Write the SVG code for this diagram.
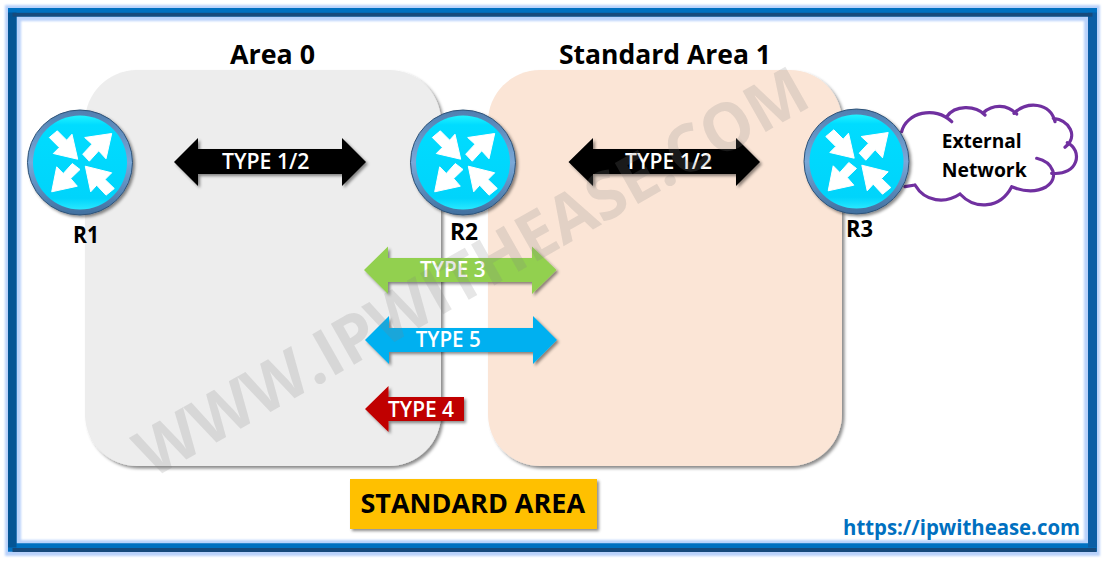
<svg xmlns="http://www.w3.org/2000/svg" width="1105" height="561" viewBox="0 0 1105 561">
<style>
text{font-family:"Open Sans","Noto Sans","Liberation Sans",sans-serif;font-weight:700}
.lab{fill:#000}
.t{fill:#fff;font-size:21px;font-weight:600}
.area{filter:url(#sh)}
.arr{filter:url(#sh2)}
</style>
<defs>
<filter id="sh" x="-5%" y="-5%" width="112%" height="112%"><feDropShadow dx="2.5" dy="2.5" stdDeviation="1.8" flood-color="#000" flood-opacity=".45"/></filter>
<filter id="sh2" x="-5%" y="-10%" width="112%" height="125%"><feDropShadow dx="2" dy="2" stdDeviation="1.5" flood-color="#000" flood-opacity=".45"/></filter>
<filter id="gl" x="-5%" y="-5%" width="110%" height="110%"><feGaussianBlur stdDeviation="1"/></filter>
<linearGradient id="ring" x1="0" y1="0" x2="0" y2="1"><stop offset="0" stop-color="#4f7fb0"/><stop offset=".5" stop-color="#7aa8d8"/><stop offset="1" stop-color="#3f6f9f"/></linearGradient>
<linearGradient id="face" x1="0" y1="0" x2="0" y2="1"><stop offset="0" stop-color="#20f2ff"/><stop offset=".1" stop-color="#00dcff"/><stop offset=".88" stop-color="#00d4fb"/><stop offset="1" stop-color="#28e8ff"/></linearGradient>
<g id="router">
<circle r="52.500" fill="url(#ring)" stroke="#2f5378" stroke-width="1" filter="url(#sh2)"/>
<circle r="47" fill="url(#face)"/>
<path fill="#fff" stroke="#fff" stroke-width="1" stroke-linejoin="round" d="M-2.300-3.300-26.700-9-20.700-15-30.700-25-22.700-31.700-13.300-22.300-8-28.300ZM31.700-29 26-3.700 18.700-11.700 9.300-1.300 2.700-8.300 12-18.300 4.700-25ZM-28.300 29.300-2.700 23.700-9.300 16 0 7-7.700 1-16.700 11-23.300 4.300ZM5.300 3.700 31.700 10.300 25 17 34.300 26 26 32.700 16.700 22.700 10.700 29.300Z"/>
</g>
</defs>
<rect width="1105" height="561" fill="#fff"/>
<g id="frame">
<rect x="13" y="13" width="1079" height="535" fill="none" stroke="#b9d2fb" stroke-width="16" filter="url(#gl)"/>
<rect x="12.250" y="12.250" width="1080.500" height="535.250" fill="none" stroke="#0070c0" stroke-width="8.500"/>
<rect x="8" y="12.500" width="8.500" height="535" fill="#045595"/>
<rect x="1088" y="12.500" width="9" height="535" fill="#0b5ea6"/>
<rect x="12.500" y="12.800" width="1080" height="3.800" fill="#174a7c"/>
<rect x="12.500" y="548" width="1084" height="4" fill="#174a7c"/>
</g>
<g id="area0"><rect class="area" x="85" y="70" width="356" height="396" rx="52" fill="#ededed"/></g>
<g id="area1"><rect class="area" x="488" y="70" width="354" height="396" rx="52" fill="#fbe5d6"/></g>
<text x="230" y="64" font-size="26" textLength="85" lengthAdjust="spacingAndGlyphs" class="lab">Area 0</text>
<text x="559" y="64" font-size="26" textLength="212" lengthAdjust="spacingAndGlyphs" class="lab">Standard Area 1</text>
<g id="cloud">
<path fill="#fff" d="M901.700 131.700C906 113 935 105 951.700 121.700C955 105 975 105 985 115C993 104 1007 104 1016.700 114C1027 101 1050 102 1055 121.700C1080 125 1080 136 1065 147.300C1084 152 1080 175 1051.700 173.300C1052 185 1022 191 1011.700 186.700C1000 209 975 210 960 194C945 203 925 203 915 185L905 186.700Z"/>
<path fill="none" stroke="#7030a0" stroke-width="3.200" stroke-linecap="round" d="M901.700 131.700C906 113 935 105 951.700 121.700M946.700 116.700C955 105 975 105 985 115M983.300 112.700C993 104 1007 104 1016.700 114M1014 113.300C1027 101 1050 102 1055 121.700M1053.300 118.300C1069 120 1079 136 1065 147.300M1067.300 142.700C1083 150 1079 176 1051.700 173.300M1036.700 158.300C1053 162 1060 178 1046 187C1035 193 1022 191 1011.700 186.700M1011.700 186.700C1000 209 975 210 960 194M960 194C945 204 925 202 915 185M915 185L905 186.700"/>
<text x="941.700" y="147.700" font-size="20" textLength="80" lengthAdjust="spacingAndGlyphs" class="lab">External</text>
<text x="941.700" y="176.700" font-size="20" textLength="85" lengthAdjust="spacingAndGlyphs" class="lab">Network</text>
</g>
<g id="R1"><use href="#router" x="80" y="162.500"/><text x="73" y="243" font-size="23" textLength="26" lengthAdjust="spacingAndGlyphs" class="lab">R1</text></g>
<g id="R2"><use href="#router" x="463" y="162.500"/><text x="450" y="240" font-size="23" textLength="28" lengthAdjust="spacingAndGlyphs" class="lab">R2</text></g>
<g id="R3"><use href="#router" x="856.500" y="161.500"/><text x="846" y="237" font-size="23" textLength="27" lengthAdjust="spacingAndGlyphs" class="lab">R3</text></g>
<g id="connectors">
<polygon class="arr" fill="#000" points="174,162 198,138 198,149 342,149 342,138 366,162 342,186 342,174 198,174 198,186"/>
<polygon class="arr" fill="#000" points="568.500,162 593,138 593,149 736,149 736,138 760,162 736,186 736,174 593,174 593,186"/>
<polygon class="arr" fill="#92d050" points="364,270 388,246.500 388,258 532,258 532,246.500 556.500,270 532,294 532,282 388,282 388,294"/>
<polygon class="arr" fill="#00b0f0" points="365,340 389,316 389,328 533,328 533,316 557,340 533,364 533,352 389,352 389,364"/>
<polygon class="arr" fill="#c00000" points="365,409 388.500,386 388.500,397 464,397 464,421 388.500,421 388.500,432"/>
<text class="t" x="222" y="169" textLength="87.500" lengthAdjust="spacingAndGlyphs">TYPE 1/2</text>
<text class="t" x="625" y="169" textLength="87" lengthAdjust="spacingAndGlyphs">TYPE 1/2</text>
<text class="t" x="420" y="276.700" textLength="65.700" lengthAdjust="spacingAndGlyphs">TYPE 3</text>
<text class="t" x="415.700" y="347.300" textLength="65" lengthAdjust="spacingAndGlyphs">TYPE 5</text>
<text class="t" x="388" y="416.700" textLength="66" lengthAdjust="spacingAndGlyphs">TYPE 4</text>
</g>
<g id="legend"><rect x="350" y="479" width="247" height="50" fill="#ffc000" filter="url(#sh2)"/><text x="360.500" y="513.300" font-size="27" textLength="224.500" lengthAdjust="spacingAndGlyphs" class="lab">STANDARD AREA</text></g>
<text x="843" y="535" font-size="21" fill="#0070c0" textLength="237" lengthAdjust="spacingAndGlyphs">https://ipwithease.com</text>
<text transform="translate(152 479) rotate(-29.500)" font-size="66" fill="#808080" fill-opacity=".2" textLength="760" lengthAdjust="spacingAndGlyphs">WWW.IPWITHEASE.COM</text>
</svg>
